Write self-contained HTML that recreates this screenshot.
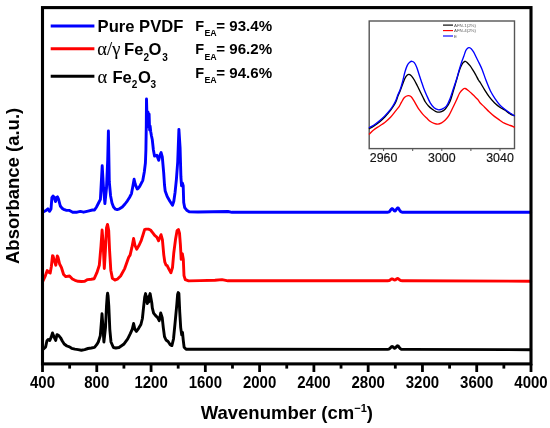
<!DOCTYPE html>
<html><head><meta charset="utf-8">
<style>
html,body{margin:0;padding:0;background:#fff;}
body{width:550px;height:428px;overflow:hidden;}
svg{display:block;}
text{font-family:"Liberation Sans",Arial,sans-serif;}
.b{font-weight:bold;}
.sym{font-family:"Liberation Serif","Times New Roman",serif;font-weight:normal;}
</style></head><body>
<svg width="550" height="428" viewBox="0 0 550 428">
<rect width="550" height="428" fill="#fff"/>
<g fill="none" stroke-linejoin="round" stroke-linecap="round" stroke-width="2.9">
<polyline stroke="#000" points="43.3,349.1 44.0,348.6 45.6,346.9 46.9,341.0 48.2,339.4 49.8,340.4 51.2,337.1 52.5,333.0 54.1,337.1 55.7,340.5 57.0,334.6 59.0,335.8 60.6,337.8 62.3,341.0 64.2,344.0 66.9,346.0 69.5,346.9 71.6,348.3 74.9,349.1 78.2,349.6 81.4,350.2 84.7,349.6 88.0,348.5 91.3,348.0 94.5,347.4 96.7,344.7 98.3,342.0 100.3,335.6 101.2,324.5 102.0,313.8 102.8,324.5 103.9,342.0 105.5,327.7 106.5,306.0 107.2,296.0 107.6,293.2 108.1,296.0 108.8,306.0 109.8,329.3 111.0,342.0 113.4,347.5 115.8,348.0 119.0,347.5 123.7,344.3 127.7,338.8 130.3,333.7 132.3,329.1 133.6,323.5 134.8,329.1 136.4,331.4 138.6,328.3 140.9,324.5 142.4,318.5 143.5,307.8 144.7,297.2 145.6,293.6 146.6,300.0 147.3,303.5 148.0,297.0 148.7,302.0 149.4,296.0 150.1,293.6 151.0,298.5 151.8,303.0 152.3,307.8 153.6,313.1 155.4,315.4 157.7,317.7 159.2,320.7 160.7,313.0 162.2,317.7 163.3,327.6 164.5,336.7 166.0,340.0 168.1,341.5 170.2,344.7 171.9,345.6 173.5,339.0 175.1,322.6 176.8,304.6 177.6,294.5 178.2,292.6 178.9,293.5 179.7,311.2 180.7,327.6 181.7,334.9 182.5,332.5 183.3,340.6 184.1,347.2 186.1,349.2 200.0,349.2 384.0,349.4 384.5,349.4 385.0,349.4 385.5,349.4 386.0,349.4 386.5,349.4 387.0,349.4 387.5,349.4 388.0,349.3 388.5,349.2 389.0,349.1 389.5,348.8 390.0,348.3 390.5,347.8 391.0,347.2 391.5,346.7 392.0,346.5 392.5,346.6 393.0,346.9 393.5,347.4 394.0,347.9 394.5,348.2 395.0,348.2 395.5,347.8 396.0,347.3 396.5,346.6 397.0,346.1 397.5,345.8 398.0,345.9 398.5,346.4 399.0,347.1 399.5,347.8 400.0,348.4 400.5,348.8 401.0,349.1 401.5,349.3 402.0,349.4 402.5,349.4 403.0,349.4 403.5,349.4 404.0,349.4 404.5,349.4 405.0,349.4 405.5,349.4 406.0,349.4 406.5,349.4 407.0,349.4 530.7,349.7"/>
<polyline stroke="#ff0000" points="42.9,281.2 45.0,276.7 47.2,270.6 48.7,272.2 50.2,273.0 51.4,266.2 52.5,255.8 53.1,256.0 54.0,259.5 55.8,265.2 57.3,256.0 58.1,257.5 59.6,264.0 61.5,267.7 63.6,274.5 65.8,276.6 69.5,276.0 72.4,279.0 75.0,280.3 78.2,281.3 81.4,281.5 84.7,281.3 87.6,279.6 91.3,279.2 94.2,278.7 96.9,272.7 99.3,265.3 101.0,246.0 102.1,230.0 103.1,242.5 104.3,268.5 105.4,250.7 106.5,228.0 107.5,224.4 108.7,230.5 109.6,250.7 110.8,270.2 112.4,278.4 114.9,280.0 117.3,279.2 120.6,276.0 124.7,268.6 128.7,257.2 130.1,255.1 131.9,247.4 133.6,238.5 135.0,245.5 136.7,249.2 139.2,245.0 141.3,240.3 143.2,234.3 144.6,229.7 146.2,229.1 148.4,229.1 150.5,230.0 152.6,232.6 154.7,235.4 156.8,237.1 158.6,240.8 161.0,234.7 162.4,239.6 163.8,255.1 164.8,262.0 166.0,265.0 167.3,265.8 168.9,269.1 170.9,272.7 172.5,267.5 173.8,252.7 175.5,239.6 177.1,230.6 178.4,229.5 179.5,233.1 180.4,244.6 181.2,259.3 182.3,253.6 183.3,259.3 184.0,275.6 185.3,279.7 188.6,280.9 200.0,280.6 215.0,280.3 222.0,279.6 228.0,280.8 384.0,280.8 384.5,280.8 385.0,280.8 385.5,280.8 386.0,280.8 386.5,280.8 387.0,280.8 387.5,280.8 388.0,280.8 388.5,280.7 389.0,280.6 389.5,280.4 390.0,280.1 390.5,279.7 391.0,279.3 391.5,279.0 392.0,278.9 392.5,279.0 393.0,279.2 393.5,279.5 394.0,279.8 394.5,280.0 395.0,280.0 395.5,279.8 396.0,279.4 396.5,279.0 397.0,278.7 397.5,278.5 398.0,278.6 398.5,278.9 399.0,279.3 399.5,279.8 400.0,280.2 400.5,280.4 401.0,280.6 401.5,280.7 402.0,280.8 402.5,280.8 403.0,280.8 403.5,280.8 404.0,280.8 404.5,280.8 405.0,280.8 405.5,280.8 406.0,280.8 406.5,280.8 407.0,280.8 530.7,281.2"/>
<polyline stroke="#0000ff" points="42.7,212.3 45.5,210.8 47.9,208.9 49.6,211.3 51.0,209.0 51.9,197.5 53.0,196.0 54.0,197.0 55.5,201.5 56.6,197.5 57.5,196.8 58.5,199.0 60.3,206.0 62.0,208.2 63.6,209.3 66.0,210.2 69.5,210.4 72.7,212.2 77.1,212.2 80.4,211.4 83.6,212.2 88.0,211.1 92.4,210.0 94.5,210.0 96.7,206.7 98.3,203.5 100.4,199.3 102.2,165.8 103.5,188.0 104.9,203.5 106.5,188.0 107.7,160.0 108.4,131.0 109.3,182.0 110.6,196.0 112.0,203.0 113.5,207.0 115.5,209.2 117.1,209.6 119.5,208.8 122.3,207.0 125.0,204.0 127.4,200.8 129.5,197.5 131.5,193.6 133.0,185.4 134.1,179.2 135.2,184.0 136.1,186.4 137.2,189.0 138.5,188.0 139.7,186.4 142.8,180.3 144.3,172.0 145.4,163.0 145.9,150.0 146.3,125.0 146.5,99.0 146.8,110.0 147.5,124.0 148.0,112.0 148.6,127.0 149.1,114.0 149.6,130.0 150.1,126.0 150.7,131.5 151.5,136.0 152.3,139.8 153.4,150.0 154.5,156.0 156.8,155.3 158.7,160.3 160.0,155.0 161.1,152.6 162.3,157.0 163.7,172.8 164.5,185.0 165.2,191.0 167.2,196.5 169.9,201.2 172.5,205.2 173.8,201.2 175.1,192.2 176.4,179.3 177.7,162.0 178.9,129.4 180.1,148.0 180.9,176.7 181.5,185.7 182.4,183.2 183.2,185.7 183.7,202.5 184.7,207.6 186.7,210.2 189.2,211.8 198.0,212.0 228.0,211.5 232.0,212.3 384.0,212.3 384.5,212.3 385.0,212.3 385.5,212.3 386.0,212.3 386.5,212.3 387.0,212.3 387.5,212.3 388.0,212.2 388.5,212.1 389.0,211.9 389.5,211.5 390.0,210.9 390.5,210.2 391.0,209.5 391.5,208.9 392.0,208.6 392.5,208.7 393.0,209.2 393.5,209.8 394.0,210.5 394.5,210.9 395.0,211.0 395.5,210.7 396.0,210.0 396.5,209.2 397.0,208.5 397.5,208.0 398.0,207.9 398.5,208.4 399.0,209.1 399.5,210.0 400.0,210.8 400.5,211.4 401.0,211.8 401.5,212.1 402.0,212.2 402.5,212.3 403.0,212.3 403.5,212.3 404.0,212.3 404.5,212.3 405.0,212.3 405.5,212.3 406.0,212.3 406.5,212.3 407.0,212.3 530.7,212.3"/>
</g>
<rect x="369.2" y="21" width="145.3" height="127.6" fill="#fff" stroke="#555" stroke-width="1.4"/>
<g fill="none" stroke-linejoin="round" stroke-linecap="round" stroke-width="1.35">
<path stroke="#ff0000" d="M369.40,134.10 C370.10,133.40 371.97,131.22 373.60,129.90 C375.23,128.58 377.33,127.43 379.20,126.20 C381.07,124.97 382.92,123.98 384.80,122.50 C386.68,121.02 388.62,119.33 390.50,117.30 C392.38,115.27 394.63,112.13 396.10,110.30 C397.57,108.47 398.40,107.65 399.30,106.30 C400.20,104.95 400.65,103.65 401.50,102.20 C402.35,100.75 403.30,98.68 404.40,97.60 C405.50,96.52 407.02,95.87 408.10,95.70 C409.18,95.53 409.97,95.82 410.90,96.60 C411.83,97.38 412.62,98.68 413.70,100.40 C414.78,102.12 416.48,105.35 417.40,106.90 C418.32,108.45 418.28,108.45 419.20,109.70 C420.12,110.95 421.65,113.00 422.90,114.40 C424.15,115.80 425.45,116.92 426.70,118.10 C427.95,119.28 429.17,120.63 430.40,121.50 C431.63,122.37 432.85,122.87 434.10,123.30 C435.35,123.73 436.65,124.18 437.90,124.10 C439.15,124.02 440.37,123.48 441.60,122.80 C442.83,122.12 444.07,121.25 445.30,120.00 C446.53,118.75 447.75,117.33 449.00,115.30 C450.25,113.27 451.55,110.35 452.80,107.80 C454.05,105.25 455.35,102.47 456.50,100.00 C457.65,97.53 458.62,94.80 459.70,93.00 C460.78,91.20 462.08,89.95 463.00,89.20 C463.92,88.45 464.32,88.28 465.20,88.50 C466.08,88.72 467.30,89.73 468.30,90.50 C469.30,91.27 470.17,92.13 471.20,93.10 C472.23,94.07 473.40,95.23 474.50,96.30 C475.60,97.37 476.88,98.43 477.80,99.50 C478.72,100.57 478.87,101.42 480.00,102.70 C481.13,103.98 483.08,105.68 484.60,107.20 C486.12,108.72 487.47,110.27 489.10,111.80 C490.73,113.33 492.62,115.00 494.40,116.40 C496.18,117.80 498.15,119.07 499.80,120.20 C501.45,121.33 502.53,122.32 504.30,123.20 C506.07,124.08 508.75,124.87 510.40,125.50 C512.05,126.13 513.57,126.75 514.20,127.00"/>
<path stroke="#000" d="M369.40,128.60 C370.10,128.20 371.97,127.27 373.60,126.20 C375.23,125.13 377.33,123.73 379.20,122.20 C381.07,120.67 382.92,118.97 384.80,117.00 C386.68,115.03 388.93,112.40 390.50,110.40 C392.07,108.40 393.28,106.48 394.20,105.00 C395.12,103.52 395.37,103.03 396.00,101.50 C396.63,99.97 397.28,97.63 398.00,95.80 C398.72,93.97 399.52,92.45 400.30,90.50 C401.08,88.55 401.92,86.13 402.70,84.10 C403.48,82.07 404.23,79.80 405.00,78.30 C405.77,76.80 406.62,75.75 407.30,75.10 C407.98,74.45 408.42,74.27 409.10,74.40 C409.78,74.53 410.53,74.97 411.40,75.90 C412.27,76.83 413.32,78.35 414.30,80.00 C415.28,81.65 416.32,83.85 417.30,85.80 C418.28,87.75 419.23,89.75 420.20,91.70 C421.17,93.65 422.23,95.78 423.10,97.50 C423.97,99.22 424.50,100.58 425.40,102.00 C426.30,103.42 427.35,104.78 428.50,106.00 C429.65,107.22 431.05,108.37 432.30,109.30 C433.55,110.23 434.77,111.13 436.00,111.60 C437.23,112.07 438.47,112.27 439.70,112.10 C440.93,111.93 442.32,111.32 443.40,110.60 C444.48,109.88 445.10,109.32 446.20,107.80 C447.30,106.28 448.82,104.30 450.00,101.50 C451.18,98.70 452.23,94.50 453.30,91.00 C454.37,87.50 455.33,84.08 456.40,80.50 C457.47,76.92 458.68,72.33 459.70,69.50 C460.72,66.67 461.80,64.75 462.50,63.50 C463.20,62.25 463.43,62.37 463.90,62.00 C464.37,61.63 464.77,61.23 465.30,61.30 C465.83,61.37 466.32,61.67 467.10,62.40 C467.88,63.13 469.05,64.45 470.00,65.70 C470.95,66.95 471.87,68.42 472.80,69.90 C473.73,71.38 474.67,72.92 475.60,74.60 C476.53,76.28 477.67,78.73 478.40,80.00 C479.13,81.27 478.97,80.57 480.00,82.20 C481.03,83.83 483.08,87.40 484.60,89.80 C486.12,92.20 487.47,94.45 489.10,96.60 C490.73,98.75 492.62,100.93 494.40,102.70 C496.18,104.47 498.02,105.93 499.80,107.20 C501.58,108.47 503.33,109.15 505.10,110.30 C506.87,111.45 508.88,113.22 510.40,114.10 C511.92,114.98 513.57,115.35 514.20,115.60"/>
<path stroke="#0000ff" d="M369.40,127.60 C370.10,127.22 371.97,126.40 373.60,125.30 C375.23,124.20 377.33,122.57 379.20,121.00 C381.07,119.43 382.92,117.83 384.80,115.90 C386.68,113.97 388.93,111.43 390.50,109.40 C392.07,107.37 393.27,105.30 394.20,103.70 C395.13,102.10 395.47,101.32 396.10,99.80 C396.73,98.28 397.30,96.35 398.00,94.60 C398.70,92.85 399.52,91.53 400.30,89.30 C401.08,87.07 401.92,84.12 402.70,81.20 C403.48,78.28 404.23,74.43 405.00,71.80 C405.77,69.17 406.52,66.98 407.30,65.40 C408.08,63.82 408.92,62.98 409.70,62.30 C410.48,61.62 411.23,61.23 412.00,61.30 C412.77,61.37 413.52,61.72 414.30,62.70 C415.08,63.68 415.92,65.28 416.70,67.20 C417.48,69.12 418.23,71.87 419.00,74.20 C419.77,76.53 420.52,78.87 421.30,81.20 C422.08,83.53 422.82,85.87 423.70,88.20 C424.58,90.53 425.48,92.70 426.60,95.20 C427.72,97.70 429.15,101.10 430.40,103.20 C431.65,105.30 432.85,106.72 434.10,107.80 C435.35,108.88 436.75,109.42 437.90,109.70 C439.05,109.98 440.10,109.72 441.00,109.50 C441.90,109.28 442.37,109.00 443.30,108.40 C444.23,107.80 445.52,107.42 446.60,105.90 C447.68,104.38 448.72,102.03 449.80,99.30 C450.88,96.57 452.00,92.77 453.10,89.50 C454.20,86.23 455.30,83.25 456.40,79.70 C457.50,76.15 458.77,71.32 459.70,68.20 C460.63,65.08 461.30,63.05 462.00,61.00 C462.70,58.95 463.28,57.62 463.90,55.90 C464.52,54.18 465.08,51.98 465.70,50.70 C466.32,49.42 467.02,48.70 467.60,48.20 C468.18,47.70 468.57,47.58 469.20,47.70 C469.83,47.82 470.65,48.17 471.40,48.90 C472.15,49.63 472.85,50.62 473.70,52.10 C474.55,53.58 475.57,55.92 476.50,57.80 C477.43,59.68 478.33,61.37 479.30,63.40 C480.27,65.43 481.17,67.13 482.30,70.00 C483.43,72.87 484.72,77.05 486.10,80.60 C487.48,84.15 489.08,88.25 490.60,91.30 C492.12,94.35 493.67,96.62 495.20,98.90 C496.73,101.18 498.15,103.23 499.80,105.00 C501.45,106.77 503.33,108.12 505.10,109.50 C506.87,110.88 508.88,112.28 510.40,113.30 C511.92,114.32 513.57,115.22 514.20,115.60"/>
</g>
<g stroke="#555" stroke-width="1"><line x1="383.60" y1="148.6" x2="383.60" y2="151"/><line x1="412.70" y1="148.6" x2="412.70" y2="151"/><line x1="441.80" y1="148.6" x2="441.80" y2="151"/><line x1="470.90" y1="148.6" x2="470.90" y2="151"/><line x1="500.00" y1="148.6" x2="500.00" y2="151"/></g>
<g font-size="12.4" fill="#111" stroke="#111" stroke-width="0.15"><text x="383.60" y="162.3" text-anchor="middle">2960</text><text x="441.80" y="162.3" text-anchor="middle">3000</text><text x="500.00" y="162.3" text-anchor="middle">3040</text></g>
<g stroke-width="1.15">
<line x1="443" y1="25.1" x2="453" y2="25.1" stroke="#000"/>
<line x1="443" y1="30.6" x2="453" y2="30.6" stroke="#f00"/>
<line x1="443" y1="36" x2="453" y2="36" stroke="#00f"/>
</g>
<g font-size="4.4" fill="#555">
<text x="454" y="26.6">AFN-1(2%)</text>
<text x="454" y="32.1">AFN-4(2%)</text>
<text x="454" y="37.5">E</text>
</g>
<rect x="42.5" y="7.6" width="488.5" height="356.3" fill="none" stroke="#000" stroke-width="3.1"/>
<g stroke="#000" stroke-width="2.8"><line x1="42.50" y1="363.9" x2="42.50" y2="372.0"/><line x1="69.64" y1="363.9" x2="69.64" y2="368.6"/><line x1="96.78" y1="363.9" x2="96.78" y2="372.0"/><line x1="123.92" y1="363.9" x2="123.92" y2="368.6"/><line x1="151.06" y1="363.9" x2="151.06" y2="372.0"/><line x1="178.19" y1="363.9" x2="178.19" y2="368.6"/><line x1="205.33" y1="363.9" x2="205.33" y2="372.0"/><line x1="232.47" y1="363.9" x2="232.47" y2="368.6"/><line x1="259.61" y1="363.9" x2="259.61" y2="372.0"/><line x1="286.75" y1="363.9" x2="286.75" y2="368.6"/><line x1="313.89" y1="363.9" x2="313.89" y2="372.0"/><line x1="341.03" y1="363.9" x2="341.03" y2="368.6"/><line x1="368.17" y1="363.9" x2="368.17" y2="372.0"/><line x1="395.31" y1="363.9" x2="395.31" y2="368.6"/><line x1="422.44" y1="363.9" x2="422.44" y2="372.0"/><line x1="449.58" y1="363.9" x2="449.58" y2="368.6"/><line x1="476.72" y1="363.9" x2="476.72" y2="372.0"/><line x1="503.86" y1="363.9" x2="503.86" y2="368.6"/><line x1="531.00" y1="363.9" x2="531.00" y2="372.0"/></g>
<g class="b" font-size="15" fill="#000"><text transform="translate(42.50,387.6) scale(1,1.08)" text-anchor="middle">400</text><text transform="translate(96.78,387.6) scale(1,1.08)" text-anchor="middle">800</text><text transform="translate(151.06,387.6) scale(1,1.08)" text-anchor="middle">1200</text><text transform="translate(205.33,387.6) scale(1,1.08)" text-anchor="middle">1600</text><text transform="translate(259.61,387.6) scale(1,1.08)" text-anchor="middle">2000</text><text transform="translate(313.89,387.6) scale(1,1.08)" text-anchor="middle">2400</text><text transform="translate(368.17,387.6) scale(1,1.08)" text-anchor="middle">2800</text><text transform="translate(422.44,387.6) scale(1,1.08)" text-anchor="middle">3200</text><text transform="translate(476.72,387.6) scale(1,1.08)" text-anchor="middle">3600</text><text transform="translate(531.00,387.6) scale(1,1.08)" text-anchor="middle">4000</text></g>
<text class="b" x="200.7" y="419.3" font-size="18.5">Wavenumber (cm<tspan dy="-7.5" font-size="11">−1</tspan><tspan dy="7.5">)</tspan></text>
<text class="b" font-size="18.5" transform="translate(19.3,185.9) rotate(-90)" text-anchor="middle">Absorbance (a.u.)</text>
<g stroke-width="3" stroke-linecap="butt">
<line x1="50.7" y1="26.1" x2="94.4" y2="26.1" stroke="#0000ff"/>
<line x1="50.7" y1="48.7" x2="94.4" y2="48.7" stroke="#ff0000"/>
<line x1="50.7" y1="76.3" x2="94.4" y2="76.3" stroke="#000"/>
</g>
<text class="b" x="97.6" y="32.4" font-size="16.6">Pure PVDF</text>
<text class="sym" x="97.3" y="55.3" font-size="18.5" stroke="#000" stroke-width="0.1">α/γ</text>
<text class="b" x="124.1" y="54.5" font-size="16.6">Fe</text><text class="b" x="143.6" y="60.7" font-size="10">2</text><text class="b" x="148.5" y="54.5" font-size="16.6">O</text><text class="b" x="162.2" y="60.7" font-size="10">3</text>
<text class="sym" x="97.4" y="82.6" font-size="18.5" stroke="#000" stroke-width="0.1">α</text>
<text class="b" x="112.4" y="82.5" font-size="16.6">Fe</text><text class="b" x="131.8" y="88.4" font-size="10">2</text><text class="b" x="137.9" y="82.5" font-size="16.6">O</text><text class="b" x="150.6" y="88.4" font-size="10">3</text>
<text class="b" x="195.3" y="30.9" font-size="14.5">F</text><text class="b" x="204.4" y="36.2" font-size="8.8" letter-spacing="0.1">EA</text><text class="b" x="216.3" y="30.9" font-size="15.1">= 93.4%</text>
<text class="b" x="195.3" y="54.4" font-size="14.5">F</text><text class="b" x="204.4" y="59.7" font-size="8.8" letter-spacing="0.1">EA</text><text class="b" x="216.3" y="54.4" font-size="15.1">= 96.2%</text>
<text class="b" x="195.3" y="77.7" font-size="14.5">F</text><text class="b" x="204.4" y="83.0" font-size="8.8" letter-spacing="0.1">EA</text><text class="b" x="216.3" y="77.7" font-size="15.1">= 94.6%</text>
</svg>
</body></html>
